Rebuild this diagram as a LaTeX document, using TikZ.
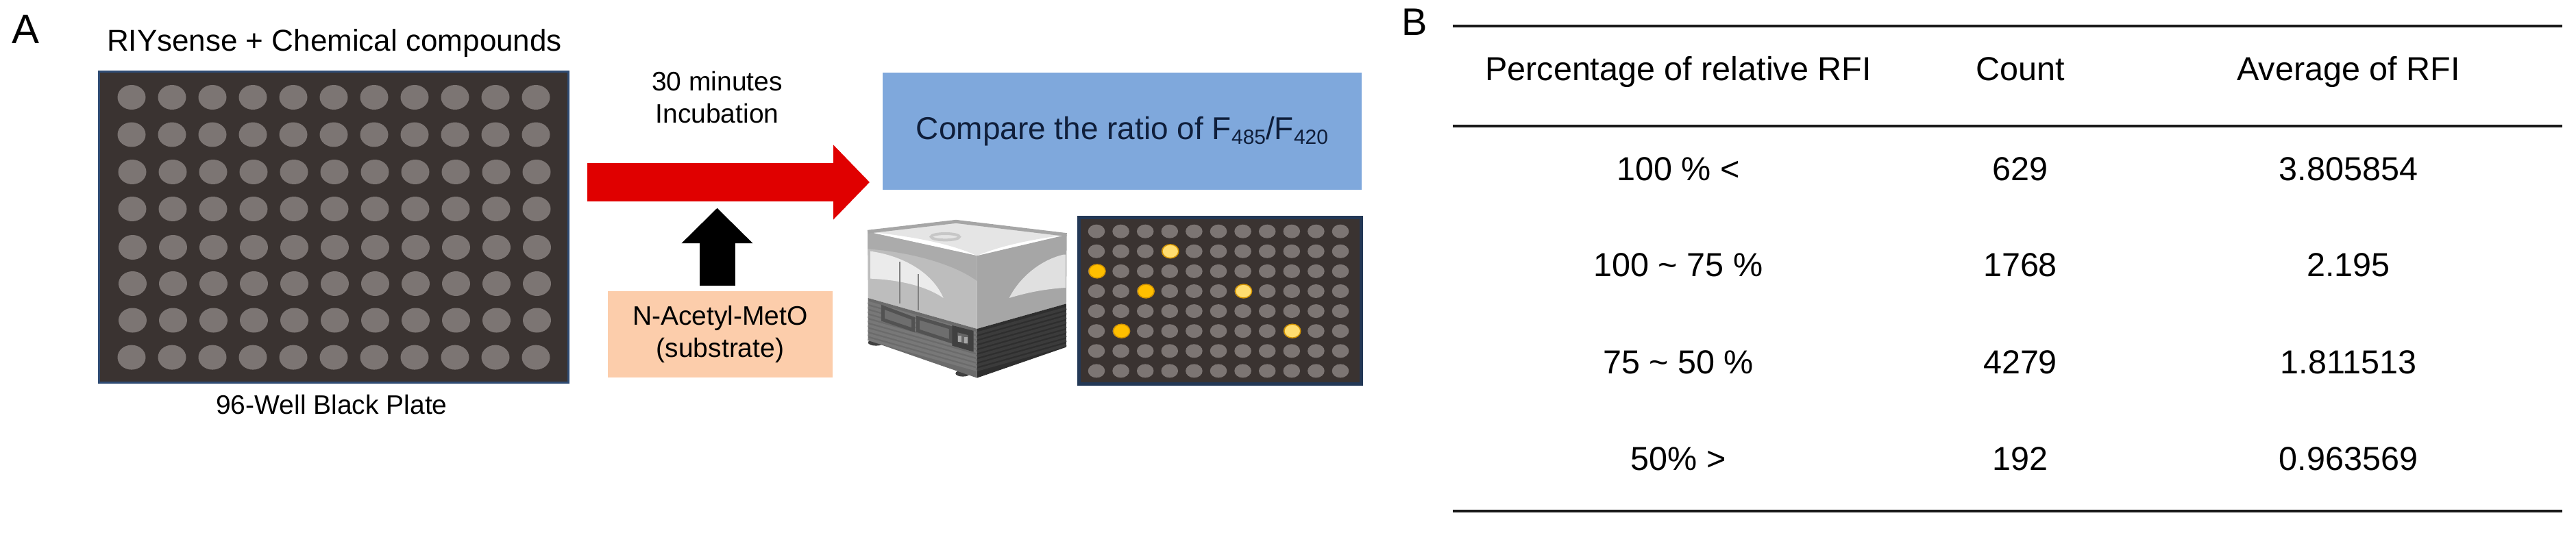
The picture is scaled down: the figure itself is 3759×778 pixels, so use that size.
\documentclass[tikz,border=0pt]{standalone}
\usepackage{fontspec}
\setmainfont{Liberation Sans}
\usetikzlibrary{arrows.meta}
\definecolor{platefill}{HTML}{3A3331}
\definecolor{plateedge}{HTML}{2F4B73}
\definecolor{wellgray}{HTML}{7C7573}
\definecolor{ratioblue}{HTML}{7FA8DC}
\definecolor{ratiotext}{HTML}{0F1E3A}
\definecolor{peach}{HTML}{FCCDAB}
\definecolor{hitdeep}{HTML}{FFBF00}
\definecolor{hitpale}{HTML}{FFDD70}
\definecolor{hitrim}{HTML}{D29300}
\newcommand{\lowfig}[1]{\raisebox{-7pt}{\fontsize{30}{30}\selectfont #1}}
\tikzset{
  panel/.style={font=\fontsize{60}{60}\selectfont, anchor=base},
  small/.style={font=\fontsize{39}{47}\selectfont, align=center},
  cell/.style={font=\fontsize{48.5}{48.5}\selectfont, anchor=base},
  rule/.style={line width=4pt, color=black!90}
}
\begin{document}
\begin{tikzpicture}[x=1pt,y=-1pt,inner sep=0pt,outer sep=0pt]
        \useasboundingbox (0,0) rectangle (3759,778);
        %-----A
         \node[panel] (A) at (38,63.5) {A};
         \node[font=\fontsize{44}{44}\selectfont, anchor=base] (title) at (488,75) {RIYsense + Chemical compounds};
         \node[draw=plateedge, line width=3pt, fill=platefill, minimum width=685pt, minimum height=453pt] (plate) at (486.5,331.5) {};
         \node[small, anchor=base] (platename) at (484,604.5) {96-Well Black Plate};

         \foreach \r/\y/\dx in {1/142/0, 2/196.5/0, 3/251/1, 4/305/1, 5/361/1.5, 6/414/1.5, 7/467.5/1.5, 8/521.6/0}
         \foreach \c in {0,...,10}
         \fill[wellgray] ({192+59*\c+\dx},\y) ellipse (20.5 and 18);

         \node[small] (incub) at (1046.5,142) {30 minutes\\Incubation};
         \coordinate (redtail) at (857,266);
         \coordinate (redtip) at (1269,266);
         \draw[line width=55pt, color=red!88!black, -{Triangle[length=53pt,width=106pt]}] (redtail) -- (redtip);

         \node[small, fill=peach, minimum width=328pt, minimum height=126pt] (subst) at (1051,488) {N-Acetyl-MetO\\(substrate)};
         \coordinate (blacktip) at (1046.5,303.6);
         \coordinate (blacktail) at (1046.5,417);
         \draw[line width=52pt, -{Triangle[length=51.6pt,width=101pt]}] (blacktail) -- (blacktip);

         \node[fill=ratioblue, text=ratiotext, font=\fontsize{46}{46}\selectfont, minimum width=699pt, minimum height=171.5pt] (ratio) at (1637.5,191.7) {Compare the ratio of F\lowfig{485}/F\lowfig{420}};

        %-----reader
        \begin{scope}[shift={(1250,310)},scale=0.3333]
          \fill[black!75] (85,570) ellipse (35 and 14);
          \fill[black!75] (465,705) ellipse (32 and 14);
          \fill[black!26] (48,85) -- (527,190) -- (527,510) -- (50,375) -- cycle;
          \fill[black!35] (527,190) -- (920,98) -- (918,400) -- (527,510) -- cycle;
          \fill[black!33] (48,85) -- (48,160) .. controls (250,175) and (430,230) .. (527,300) -- (527,190) -- cycle;
          \fill[black!10] (48,85) -- (435,40) -- (920,98) .. controls (750,120) and (620,150) .. (527,190) .. controls (400,130) and (200,100) .. (48,85) -- cycle;
          \draw[black!35, line width=5] (48,85) -- (435,40) -- (920,98);
          \draw[black!22, line width=4] (388,107) ellipse (62 and 14);
          \fill[black!8] (60,170) .. controls (200,190) and (330,260) .. (380,375) .. controls (300,320) and (180,295) .. (60,290) -- cycle;
          \fill[black!12] (905,185) .. controls (800,210) and (710,290) .. (668,375) .. controls (750,350) and (830,335) .. (915,330) -- (915,185) -- cycle;
          \draw[black!50, line width=2] (190,215) -- (190,400);
          \draw[black!50, line width=2] (270,270) -- (270,430);
          \fill[black!58] (50,375) -- (527,510) -- (527,725) -- (50,560) -- cycle;
          \fill[black!82] (527,510) -- (918,400) -- (918,590) -- (527,725) -- cycle;
          \foreach \d in {20,40,...,180}
          {
            \draw[black!53, line width=4] (50,375+\d) -- (527,510+\d);
            \draw[black!77, line width=4] (527,510+\d) -- (918,400+\d);
          }
          \draw[black!68, fill=black!57, line width=5] (115,415) -- (248,465) -- (248,515) -- (115,470) -- cycle;
          \draw[black!68, fill=black!57, line width=5] (268,462) -- (412,505) -- (412,565) -- (268,518) -- cycle;
          \draw[black!75, fill=black!60, line width=8] (430,510) -- (500,528) -- (500,595) -- (430,575) -- cycle;
          \draw[black!35, line width=5] (452,540) -- (452,568);
          \draw[black!35, line width=5] (478,546) -- (478,574);
        \end{scope}

         \node[draw=plateedge!75!black, line width=5pt, fill=platefill, minimum width=412pt, minimum height=243pt] (hits) at (1780.5,438.5) {};
         \foreach \r in {0,...,7}
         \foreach \c in {0,...,10}
         \fill[wellgray] ({1600+35.6*\c},{337.7+29.1*\r}) ellipse (12.3 and 10);

         \foreach \c/\r/\colr in {3/1/hitpale, 0/2/hitdeep, 2/3/hitdeep, 6/3/hitpale, 1/5/hitdeep, 8/5/hitpale}
         \filldraw[fill=\colr, draw=hitrim, line width=1.5pt] ({1600+35.6*\c+1},{337.7+29.1*\r}) ellipse (12 and 10);

        %-----B
         \node[panel, font=\fontsize{56}{56}\selectfont] (B) at (2064,52) {B};
         \foreach \n/\y in {top/37.7, mid/184, bot/746}
         \draw[rule] (2120,\y) coordinate (\n l) -- (3739,\y) coordinate (\n r);

         \node[cell] (head1) at (2449,117.6) {Percentage of relative RFI};
         \node[cell] (head2) at (2948,117.6) {Count};
         \node[cell] (head3) at (3427,117.6) {Average of RFI};

         \node[cell] (pctA) at (2449,263) {100 \% <};
         \node[cell] (cntA) at (2948,263) {629};
         \node[cell] (avgA) at (3427,263) {3.805854};

         \node[cell] (pctB) at (2449,403.5) {100 \textasciitilde{} 75 \%};
         \node[cell] (cntB) at (2948,403.5) {1768};
         \node[cell] (avgB) at (3427,403.5) {2.195};

         \node[cell] (pctC) at (2449,545) {75 \textasciitilde{} 50 \%};
         \node[cell] (cntC) at (2948,545) {4279};
         \node[cell] (avgC) at (3427,545) {1.811513};

         \node[cell] (pctD) at (2449,686) {50\% >};
         \node[cell] (cntD) at (2948,686) {192};
         \node[cell] (avgD) at (3427,686) {0.963569};
\end{tikzpicture}
\end{document}
